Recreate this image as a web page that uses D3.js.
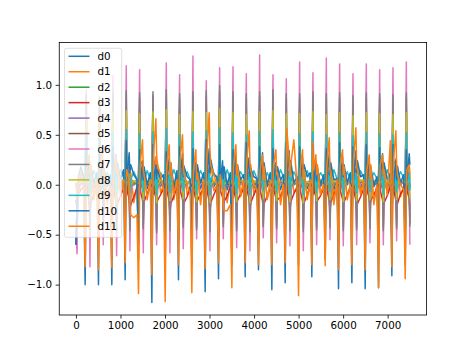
<!DOCTYPE html>
<html>
<head>
<meta charset="utf-8">
<script src="https://cdn.jsdelivr.net/npm/d3@7"></script>
<style>
body { margin:0; background:#fff; }
text { font-family:"DejaVu Sans", sans-serif; }
</style>
</head>
<body>
<div id="chartContainer"></div>
<script>

// sample positions (shared by all series), 8 samples around each beat
var xs = [0, 25, 45, 110, 170,
  207, 232, 244, 297, 314, 332, 402, 472,
  506, 531, 543, 596, 613, 631, 701, 771,
  806, 831, 843, 896, 913, 931, 1001, 1071,
  1105, 1130, 1142, 1195, 1212, 1230, 1300, 1370,
  1405, 1430, 1442, 1495, 1512, 1530, 1600, 1670,
  1705, 1730, 1742, 1795, 1812, 1830, 1900, 1970,
  2004, 2029, 2041, 2094, 2111, 2129, 2199, 2269,
  2303, 2328, 2340, 2393, 2410, 2428, 2498, 2568,
  2603, 2628, 2640, 2693, 2710, 2728, 2798, 2868,
  2902, 2927, 2939, 2992, 3009, 3027, 3097, 3167,
  3202, 3227, 3239, 3292, 3309, 3327, 3397, 3467,
  3502, 3527, 3539, 3592, 3609, 3627, 3697, 3767,
  3801, 3826, 3838, 3891, 3908, 3926, 3996, 4066,
  4100, 4125, 4137, 4190, 4207, 4225, 4295, 4365,
  4400, 4425, 4437, 4490, 4507, 4525, 4595, 4665,
  4699, 4724, 4736, 4789, 4806, 4824, 4894, 4964,
  4999, 5024, 5036, 5089, 5106, 5124, 5194, 5264,
  5298, 5323, 5335, 5388, 5405, 5423, 5493, 5563,
  5598, 5623, 5635, 5688, 5705, 5723, 5793, 5863,
  5897, 5922, 5934, 5987, 6004, 6022, 6092, 6162,
  6197, 6222, 6234, 6287, 6304, 6322, 6392, 6462,
  6496, 6521, 6533, 6586, 6603, 6621, 6691, 6761,
  6796, 6821, 6833, 6886, 6903, 6921, 6991, 7061,
  7095, 7120, 7132, 7185, 7202, 7220, 7290, 7360,
  7395, 7420, 7432, 7485, 7500];

var d0 = [-0.6, -0.35, -0.05, 0.08, 0.02,
  -0.55, 0.22, -0.05, 0.12, -0.02, 0.08, -0.04, 0.05,
  -0.5, 0.25, -0.08, 0.15, 0.0, 0.06, -0.02, 0.04,
  -0.58, 0.2, -0.04, 0.1, -0.04, 0.09, -0.05, 0.06,
  -0.52, 0.26, -0.07, 0.16, 0.01, 0.07, 0.0, 0.05,
  -0.6, 0.22, -0.05, 0.12, -0.03, 0.08, -0.04, 0.06,
  -0.55, 0.28, -0.09, 0.18, 0.0, 0.06, -0.02, 0.04,
  -0.5, 0.24, -0.05, 0.1, -0.04, 0.09, -0.05, 0.07,
  -0.57, 0.2, -0.07, 0.15, 0.01, 0.07, 0.0, 0.05,
  -0.53, 0.26, -0.04, 0.12, -0.03, 0.08, -0.04, 0.06,
  -0.6, 0.23, -0.08, 0.17, 0.0, 0.06, -0.02, 0.04,
  -0.52, 0.27, -0.05, 0.11, -0.04, 0.09, -0.05, 0.07,
  -0.56, 0.21, -0.09, 0.15, 0.01, 0.07, 0.0, 0.05,
  -0.5, 0.25, -0.05, 0.13, -0.03, 0.08, -0.04, 0.06,
  -0.58, 0.22, -0.07, 0.16, 0.0, 0.06, -0.02, 0.04,
  -0.54, 0.27, -0.04, 0.1, -0.04, 0.09, -0.05, 0.07,
  -0.6, 0.23, -0.08, 0.14, 0.01, 0.07, 0.0, 0.05,
  -0.51, 0.2, -0.05, 0.17, -0.03, 0.08, -0.04, 0.06,
  -0.56, 0.26, -0.09, 0.12, 0.0, 0.06, -0.02, 0.04,
  -0.53, 0.24, -0.05, 0.15, -0.04, 0.09, -0.05, 0.07,
  -0.59, 0.21, -0.07, 0.11, 0.01, 0.07, 0.0, 0.05,
  -0.52, 0.27, -0.04, 0.16, -0.03, 0.08, -0.04, 0.06,
  -0.57, 0.22, -0.08, 0.13, 0.0, 0.06, -0.02, 0.04,
  -0.54, 0.25, -0.05, 0.1, -0.04, 0.09, -0.05, 0.07,
  -0.58, 0.23, -0.09, 0.15, 0.01, 0.07, 0.0, 0.05,
  -0.55, 0.24, -0.05, 0.12, -0.02];

var d1 = [-0.1, -0.2, 0.02, 0.1, 0.05,
  -0.42, 0.1, 0.16, 0.22, 0.05, 0.18, -0.12, 0.02,
  -0.38, 0.12, 0.14, 0.2, 0.02, 0.15, -0.15, 0.0,
  -0.45, 0.08, 0.18, 0.25, 0.06, 0.2, -0.1, 0.03,
  -0.4, 0.14, 0.15, 0.18, 0.0, 0.12, -0.18, -0.02,
  -0.44, 0.1, 0.2, 0.24, 0.05, 0.17, -0.12, 0.02,
  -0.36, 0.12, 0.17, 0.28, 0.08, 0.22, -0.08, 0.0,
  -0.46, 0.08, 0.14, 0.2, 0.02, 0.15, -0.15, 0.03,
  -0.4, 0.13, 0.19, 0.26, 0.06, 0.19, -0.1, -0.02,
  -0.43, 0.1, 0.16, 0.22, 0.04, 0.16, -0.14, 0.02,
  -0.38, 0.12, 0.2, 0.3, 0.1, 0.24, -0.06, 0.0,
  -0.45, 0.09, 0.15, 0.15, -0.02, 0.1, -0.18, 0.03,
  -0.41, 0.14, 0.18, 0.24, 0.05, 0.18, -0.12, -0.02,
  -0.39, 0.1, 0.19, 0.27, 0.07, 0.2, -0.1, 0.02,
  -0.44, 0.12, 0.15, 0.2, 0.03, 0.15, -0.14, 0.0,
  -0.4, 0.08, 0.17, 0.22, 0.04, 0.16, -0.16, 0.03,
  -0.42, 0.13, 0.21, 0.25, 0.06, 0.2, -0.08, -0.02,
  -0.46, 0.1, 0.14, 0.2, 0.02, 0.14, -0.12, 0.02,
  -0.38, 0.12, 0.18, 0.23, 0.05, 0.17, -0.1, 0.0,
  -0.41, 0.09, 0.19, 0.26, 0.07, 0.2, -0.14, 0.03,
  -0.44, 0.14, 0.16, 0.21, 0.03, 0.15, -0.12, -0.02,
  -0.4, 0.1, 0.21, 0.27, 0.08, 0.21, -0.08, 0.02,
  -0.43, 0.12, 0.15, 0.2, 0.02, 0.14, -0.15, 0.0,
  -0.45, 0.08, 0.18, 0.24, 0.05, 0.18, -0.1, 0.03,
  -0.39, 0.13, 0.2, 0.26, 0.06, 0.19, -0.12, -0.02,
  -0.42, 0.1, 0.17, 0.2, 0.05];

var d2 = [0.02, -0.06, 0.0, 0.02, 0.01,
  0.0, 0.12, -0.05, 0.03, -0.04, 0.02, 0.01, 0.02,
  0.01, 0.1, -0.04, 0.04, -0.03, 0.03, 0.0, 0.03,
  0.0, 0.14, -0.06, 0.02, -0.05, 0.01, 0.02, 0.01,
  0.02, 0.11, -0.05, 0.04, -0.03, 0.02, 0.0, 0.02,
  0.0, 0.12, -0.04, 0.03, -0.04, 0.03, 0.01, 0.03,
  0.01, 0.14, -0.06, 0.02, -0.05, 0.01, 0.02, 0.01,
  0.0, 0.11, -0.05, 0.04, -0.03, 0.02, 0.0, 0.02,
  0.02, 0.12, -0.04, 0.03, -0.04, 0.03, 0.01, 0.03,
  0.0, 0.13, -0.06, 0.02, -0.05, 0.01, 0.02, 0.01,
  0.01, 0.1, -0.05, 0.04, -0.03, 0.02, 0.0, 0.02,
  0.0, 0.12, -0.04, 0.03, -0.04, 0.03, 0.01, 0.03,
  0.02, 0.14, -0.06, 0.02, -0.05, 0.01, 0.02, 0.01,
  0.0, 0.11, -0.05, 0.04, -0.03, 0.02, 0.0, 0.02,
  0.01, 0.12, -0.04, 0.03, -0.04, 0.03, 0.01, 0.03,
  0.0, 0.13, -0.06, 0.02, -0.05, 0.01, 0.02, 0.01,
  0.02, 0.1, -0.05, 0.04, -0.03, 0.02, 0.0, 0.02,
  0.0, 0.12, -0.04, 0.03, -0.04, 0.03, 0.01, 0.03,
  0.01, 0.14, -0.06, 0.02, -0.05, 0.01, 0.02, 0.01,
  0.0, 0.11, -0.05, 0.04, -0.03, 0.02, 0.0, 0.02,
  0.02, 0.12, -0.04, 0.03, -0.04, 0.03, 0.01, 0.03,
  0.0, 0.13, -0.06, 0.02, -0.05, 0.01, 0.02, 0.01,
  0.01, 0.1, -0.05, 0.04, -0.03, 0.02, 0.0, 0.02,
  0.0, 0.12, -0.04, 0.03, -0.04, 0.03, 0.01, 0.03,
  0.02, 0.14, -0.06, 0.02, -0.05, 0.01, 0.02, 0.01,
  0.0, 0.11, -0.05, 0.03, -0.04];

var d3v = [-0.15, -0.25, -0.1, -0.05, -0.02,
  0.0, 0.18, -0.05, -0.15, -0.26, -0.18, -0.1, -0.03,
  0.01, 0.15, -0.06, -0.13, -0.22, -0.15, -0.08, -0.02,
  -0.01, 0.2, -0.04, -0.16, -0.27, -0.19, -0.11, -0.04,
  0.0, 0.17, -0.05, -0.14, -0.24, -0.2, -0.12, -0.03,
  0.01, 0.19, -0.06, -0.15, -0.25, -0.17, -0.09, -0.02,
  -0.01, 0.16, -0.04, -0.13, -0.23, -0.16, -0.1, -0.04,
  0.0, 0.21, -0.05, -0.16, -0.28, -0.19, -0.11, -0.03,
  0.01, 0.18, -0.06, -0.14, -0.22, -0.18, -0.12, -0.02,
  -0.01, 0.15, -0.04, -0.15, -0.25, -0.16, -0.09, -0.04,
  0.0, 0.19, -0.05, -0.16, -0.26, -0.18, -0.1, -0.03,
  0.01, 0.17, -0.06, -0.12, -0.21, -0.17, -0.11, -0.02,
  -0.01, 0.2, -0.04, -0.15, -0.25, -0.16, -0.09, -0.04,
  0.0, 0.16, -0.05, -0.14, -0.23, -0.18, -0.1, -0.03,
  0.01, 0.18, -0.06, -0.16, -0.27, -0.19, -0.11, -0.02,
  -0.01, 0.21, -0.04, -0.13, -0.22, -0.15, -0.12, -0.04,
  0.0, 0.17, -0.05, -0.15, -0.24, -0.17, -0.09, -0.03,
  0.01, 0.15, -0.06, -0.16, -0.26, -0.18, -0.1, -0.02,
  -0.01, 0.19, -0.04, -0.12, -0.21, -0.16, -0.11, -0.04,
  0.0, 0.2, -0.05, -0.15, -0.25, -0.18, -0.09, -0.03,
  0.01, 0.16, -0.06, -0.14, -0.23, -0.17, -0.1, -0.02,
  -0.01, 0.18, -0.04, -0.16, -0.27, -0.19, -0.12, -0.04,
  0.0, 0.21, -0.05, -0.13, -0.22, -0.16, -0.1, -0.03,
  0.01, 0.17, -0.06, -0.15, -0.24, -0.18, -0.11, -0.02,
  -0.01, 0.15, -0.04, -0.16, -0.26, -0.19, -0.09, -0.04,
  0.0, 0.19, -0.05, -0.14, -0.25];

var d4 = [-0.4, -0.3, -0.03, 0.0, 0.02,
  0.01, 0.76, 0.03, -0.02, -0.35, -0.02, 0.02, 0.03,
  0.02, 0.72, 0.02, -0.03, -0.33, -0.01, 0.01, 0.02,
  0.01, 0.8, 0.04, -0.02, -0.37, -0.03, 0.02, 0.03,
  0.02, 0.82, 0.03, -0.03, -0.36, -0.02, 0.01, 0.02,
  0.01, 0.78, 0.02, -0.02, -0.34, -0.01, 0.02, 0.03,
  0.02, 0.8, 0.04, -0.03, -0.38, -0.03, 0.01, 0.02,
  0.01, 0.84, 0.03, -0.02, -0.35, -0.02, 0.02, 0.03,
  0.02, 0.77, 0.02, -0.03, -0.33, -0.01, 0.01, 0.02,
  0.01, 0.8, 0.04, -0.02, -0.36, -0.03, 0.02, 0.03,
  0.02, 0.81, 0.03, -0.03, -0.37, -0.02, 0.01, 0.02,
  0.01, 0.84, 0.02, -0.02, -0.32, -0.01, 0.02, 0.03,
  0.02, 0.79, 0.04, -0.03, -0.36, -0.03, 0.01, 0.02,
  0.01, 0.77, 0.03, -0.02, -0.37, -0.02, 0.02, 0.03,
  0.02, 0.8, 0.02, -0.03, -0.33, -0.01, 0.01, 0.02,
  0.01, 0.82, 0.04, -0.02, -0.35, -0.03, 0.02, 0.03,
  0.02, 0.78, 0.03, -0.03, -0.36, -0.02, 0.01, 0.02,
  0.01, 0.78, 0.02, -0.02, -0.37, -0.01, 0.02, 0.03,
  0.02, 0.8, 0.04, -0.03, -0.35, -0.03, 0.01, 0.02,
  0.01, 0.77, 0.03, -0.02, -0.34, -0.02, 0.02, 0.03,
  0.02, 0.79, 0.02, -0.03, -0.36, -0.01, 0.01, 0.02,
  0.01, 0.76, 0.04, -0.02, -0.35, -0.03, 0.02, 0.03,
  0.02, 0.79, 0.03, -0.03, -0.34, -0.02, 0.01, 0.02,
  0.01, 0.78, 0.02, -0.02, -0.36, -0.01, 0.02, 0.03,
  0.02, 0.77, 0.04, -0.03, -0.34, -0.03, 0.01, 0.02,
  0.01, 0.79, 0.03, -0.02, -0.33];

var d5 = [-0.5, -0.35, -0.04, 0.01, 0.02,
  0.02, 0.86, 0.04, -0.03, -0.42, -0.03, 0.02, 0.03,
  0.01, 0.82, 0.03, -0.02, -0.4, -0.02, 0.03, 0.02,
  0.02, 0.88, 0.05, -0.03, -0.44, -0.03, 0.02, 0.03,
  0.01, 0.9, 0.04, -0.02, -0.43, -0.02, 0.03, 0.02,
  0.02, 0.87, 0.03, -0.03, -0.41, -0.03, 0.02, 0.03,
  0.01, 0.88, 0.05, -0.02, -0.45, -0.02, 0.03, 0.02,
  0.02, 0.9, 0.04, -0.03, -0.43, -0.03, 0.02, 0.03,
  0.01, 0.86, 0.03, -0.02, -0.4, -0.02, 0.03, 0.02,
  0.02, 0.88, 0.05, -0.03, -0.42, -0.03, 0.02, 0.03,
  0.01, 0.89, 0.04, -0.02, -0.44, -0.02, 0.03, 0.02,
  0.02, 0.93, 0.03, -0.03, -0.39, -0.03, 0.02, 0.03,
  0.01, 0.88, 0.05, -0.02, -0.43, -0.02, 0.03, 0.02,
  0.02, 0.86, 0.04, -0.03, -0.44, -0.03, 0.02, 0.03,
  0.01, 0.88, 0.03, -0.02, -0.39, -0.02, 0.03, 0.02,
  0.02, 0.9, 0.05, -0.03, -0.41, -0.03, 0.02, 0.03,
  0.01, 0.86, 0.04, -0.02, -0.43, -0.02, 0.03, 0.02,
  0.02, 0.86, 0.03, -0.03, -0.44, -0.03, 0.02, 0.03,
  0.01, 0.88, 0.05, -0.02, -0.42, -0.02, 0.03, 0.02,
  0.02, 0.86, 0.04, -0.03, -0.4, -0.03, 0.02, 0.03,
  0.01, 0.87, 0.03, -0.02, -0.43, -0.02, 0.03, 0.02,
  0.02, 0.84, 0.05, -0.03, -0.42, -0.03, 0.02, 0.03,
  0.01, 0.87, 0.04, -0.02, -0.41, -0.02, 0.03, 0.02,
  0.02, 0.86, 0.03, -0.03, -0.43, -0.03, 0.02, 0.03,
  0.01, 0.85, 0.05, -0.02, -0.41, -0.02, 0.03, 0.02,
  0.02, 0.87, 0.04, -0.03, -0.39];

var d6 = [-0.45, -0.69, -0.1, 0.02, 0.04,
  0.03, 0.95, 0.06, 0.0, -0.82, -0.06, 0.02, 0.04,
  0.02, 0.85, 0.05, -0.02, -0.6, -0.04, 0.03, 0.05,
  0.04, 1.09, 0.07, 0.01, -0.71, -0.05, 0.01, 0.03,
  0.03, 1.19, 0.06, -0.01, -0.66, -0.07, 0.02, 0.05,
  0.02, 1.15, 0.05, 0.0, -0.68, -0.05, 0.03, 0.04,
  0.04, 0.9, 0.06, -0.02, -0.6, -0.04, 0.01, 0.03,
  0.03, 1.22, 0.07, 0.01, -0.68, -0.06, 0.02, 0.05,
  0.02, 1.1, 0.05, -0.01, -0.64, -0.05, 0.03, 0.04,
  0.04, 1.29, 0.06, 0.0, -0.54, -0.04, 0.01, 0.03,
  0.03, 1.04, 0.07, -0.02, -0.66, -0.06, 0.02, 0.05,
  0.02, 1.17, 0.05, 0.01, -0.54, -0.05, 0.03, 0.04,
  0.04, 1.18, 0.06, -0.01, -0.63, -0.04, 0.01, 0.03,
  0.03, 1.11, 0.07, 0.0, -0.66, -0.06, 0.02, 0.05,
  0.02, 1.3, 0.05, -0.02, -0.53, -0.05, 0.03, 0.04,
  0.04, 1.1, 0.06, 0.01, -0.58, -0.04, 0.01, 0.03,
  0.03, 1.06, 0.07, -0.01, -0.61, -0.06, 0.02, 0.05,
  0.02, 1.23, 0.05, 0.0, -0.66, -0.05, 0.03, 0.04,
  0.04, 1.12, 0.06, -0.02, -0.6, -0.04, 0.01, 0.03,
  0.03, 1.27, 0.07, 0.01, -0.55, -0.06, 0.02, 0.05,
  0.02, 1.21, 0.05, -0.01, -0.61, -0.05, 0.03, 0.04,
  0.04, 1.11, 0.06, 0.0, -0.6, -0.04, 0.01, 0.03,
  0.03, 1.21, 0.07, -0.02, -0.58, -0.06, 0.02, 0.05,
  0.02, 1.15, 0.05, 0.01, -0.6, -0.05, 0.03, 0.04,
  0.04, 1.17, 0.06, -0.01, -0.56, -0.04, 0.01, 0.03,
  0.03, 1.23, 0.07, 0.0, -0.6];

var d7 = [-0.6, -0.4, -0.05, 0.02, 0.03,
  0.02, 0.9, 0.04, -0.02, -0.45, -0.03, 0.03, 0.02,
  0.01, 0.88, 0.03, -0.01, -0.42, -0.02, 0.02, 0.03,
  0.02, 0.93, 0.05, -0.02, -0.47, -0.03, 0.03, 0.02,
  0.01, 0.94, 0.04, -0.01, -0.46, -0.02, 0.02, 0.03,
  0.02, 0.92, 0.03, -0.02, -0.44, -0.03, 0.03, 0.02,
  0.01, 0.93, 0.05, -0.01, -0.48, -0.02, 0.02, 0.03,
  0.02, 0.95, 0.04, -0.02, -0.46, -0.03, 0.03, 0.02,
  0.01, 0.91, 0.03, -0.01, -0.43, -0.02, 0.02, 0.03,
  0.02, 0.93, 0.05, -0.02, -0.45, -0.03, 0.03, 0.02,
  0.01, 0.94, 0.04, -0.01, -0.47, -0.02, 0.02, 0.03,
  0.02, 0.99, 0.03, -0.02, -0.42, -0.03, 0.03, 0.02,
  0.01, 0.93, 0.05, -0.01, -0.46, -0.02, 0.02, 0.03,
  0.02, 0.91, 0.04, -0.02, -0.47, -0.03, 0.03, 0.02,
  0.01, 0.93, 0.03, -0.01, -0.42, -0.02, 0.02, 0.03,
  0.02, 0.95, 0.05, -0.02, -0.44, -0.03, 0.03, 0.02,
  0.01, 0.91, 0.04, -0.01, -0.46, -0.02, 0.02, 0.03,
  0.02, 0.91, 0.03, -0.02, -0.47, -0.03, 0.03, 0.02,
  0.01, 0.93, 0.05, -0.01, -0.45, -0.02, 0.02, 0.03,
  0.02, 0.91, 0.04, -0.02, -0.43, -0.03, 0.03, 0.02,
  0.01, 0.92, 0.03, -0.01, -0.46, -0.02, 0.02, 0.03,
  0.02, 0.89, 0.05, -0.02, -0.45, -0.03, 0.03, 0.02,
  0.01, 0.92, 0.04, -0.01, -0.44, -0.02, 0.02, 0.03,
  0.02, 0.91, 0.03, -0.02, -0.46, -0.03, 0.03, 0.02,
  0.01, 0.9, 0.05, -0.01, -0.44, -0.02, 0.02, 0.03,
  0.02, 0.92, 0.04, -0.02, -0.42];

var d8 = [-0.1, -0.15, 0.0, 0.03, 0.02,
  0.02, 0.7, 0.03, 0.05, -0.16, 0.0, 0.04, 0.02,
  0.01, 0.66, 0.02, 0.04, -0.14, 0.01, 0.03, 0.01,
  0.03, 0.72, 0.04, 0.06, -0.18, -0.01, 0.05, 0.03,
  0.02, 0.74, 0.03, 0.05, -0.17, 0.0, 0.04, 0.02,
  0.01, 0.71, 0.02, 0.04, -0.15, 0.01, 0.03, 0.01,
  0.03, 0.73, 0.04, 0.06, -0.18, -0.01, 0.05, 0.03,
  0.02, 0.75, 0.03, 0.05, -0.16, 0.0, 0.04, 0.02,
  0.01, 0.7, 0.02, 0.04, -0.14, 0.01, 0.03, 0.01,
  0.03, 0.73, 0.04, 0.06, -0.17, -0.01, 0.05, 0.03,
  0.02, 0.72, 0.03, 0.05, -0.18, 0.0, 0.04, 0.02,
  0.01, 0.76, 0.02, 0.04, -0.13, 0.01, 0.03, 0.01,
  0.03, 0.72, 0.04, 0.06, -0.17, -0.01, 0.05, 0.03,
  0.02, 0.7, 0.03, 0.05, -0.18, 0.0, 0.04, 0.02,
  0.01, 0.73, 0.02, 0.04, -0.14, 0.01, 0.03, 0.01,
  0.03, 0.74, 0.04, 0.06, -0.16, -0.01, 0.05, 0.03,
  0.02, 0.71, 0.03, 0.05, -0.17, 0.0, 0.04, 0.02,
  0.01, 0.71, 0.02, 0.04, -0.18, 0.01, 0.03, 0.01,
  0.03, 0.73, 0.04, 0.06, -0.16, -0.01, 0.05, 0.03,
  0.02, 0.7, 0.03, 0.05, -0.15, 0.0, 0.04, 0.02,
  0.01, 0.72, 0.02, 0.04, -0.17, 0.01, 0.03, 0.01,
  0.03, 0.69, 0.04, 0.06, -0.16, -0.01, 0.05, 0.03,
  0.02, 0.72, 0.03, 0.05, -0.15, 0.0, 0.04, 0.02,
  0.01, 0.71, 0.02, 0.04, -0.17, 0.01, 0.03, 0.01,
  0.03, 0.7, 0.04, 0.06, -0.15, -0.01, 0.05, 0.03,
  0.02, 0.72, 0.03, 0.05, -0.14];

var d9 = [0.02, -0.08, 0.05, 0.12, 0.08,
  0.05, 0.5, 0.0, 0.12, -0.08, 0.05, 0.14, 0.06,
  0.04, 0.46, 0.01, 0.1, -0.06, 0.04, 0.12, 0.05,
  0.06, 0.52, -0.01, 0.14, -0.09, 0.06, 0.15, 0.07,
  0.05, 0.55, 0.0, 0.11, -0.08, 0.05, 0.13, 0.06,
  0.04, 0.51, 0.01, 0.13, -0.07, 0.04, 0.14, 0.05,
  0.06, 0.53, -0.01, 0.12, -0.1, 0.06, 0.12, 0.07,
  0.05, 0.56, 0.0, 0.1, -0.08, 0.05, 0.15, 0.06,
  0.04, 0.5, 0.01, 0.14, -0.06, 0.04, 0.13, 0.05,
  0.06, 0.53, -0.01, 0.11, -0.09, 0.06, 0.14, 0.07,
  0.05, 0.54, 0.0, 0.13, -0.1, 0.05, 0.12, 0.06,
  0.04, 0.57, 0.01, 0.12, -0.05, 0.04, 0.15, 0.05,
  0.06, 0.52, -0.01, 0.1, -0.09, 0.06, 0.13, 0.07,
  0.05, 0.5, 0.0, 0.14, -0.1, 0.05, 0.14, 0.06,
  0.04, 0.53, 0.01, 0.11, -0.06, 0.04, 0.12, 0.05,
  0.06, 0.55, -0.01, 0.13, -0.08, 0.06, 0.15, 0.07,
  0.05, 0.51, 0.0, 0.12, -0.09, 0.05, 0.13, 0.06,
  0.04, 0.51, 0.01, 0.1, -0.1, 0.04, 0.14, 0.05,
  0.06, 0.53, -0.01, 0.14, -0.08, 0.06, 0.12, 0.07,
  0.05, 0.5, 0.0, 0.11, -0.07, 0.05, 0.15, 0.06,
  0.04, 0.52, 0.01, 0.13, -0.09, 0.04, 0.13, 0.05,
  0.06, 0.49, -0.01, 0.12, -0.08, 0.06, 0.14, 0.07,
  0.05, 0.52, 0.0, 0.1, -0.07, 0.05, 0.12, 0.06,
  0.04, 0.51, 0.01, 0.14, -0.09, 0.04, 0.15, 0.05,
  0.06, 0.5, -0.01, 0.11, -0.07, 0.06, 0.13, 0.07,
  0.05, 0.52, 0.0, 0.13, -0.06];

var d10 = [-0.6, -0.2, 0.05, 0.18, 0.08,
  -1.0, 0.35, 0.02, 0.28, 0.08, 0.2, 0.02, 0.12,
  -1.0, 0.3, 0.05, 0.22, 0.04, 0.16, 0.0, 0.1,
  -1.0, 0.38, 0.0, 0.3, 0.1, 0.22, 0.06, 0.15,
  -0.95, 0.44, 0.04, 0.32, 0.12, 0.2, 0.1, 0.05,
  -0.75, 0.35, -0.02, 0.24, 0.05, 0.18, 0.0, 0.12,
  -1.18, 0.4, 0.03, 0.2, 0.06, 0.15, 0.06, 0.1,
  -0.8, 0.33, 0.0, 0.27, 0.1, 0.22, -0.02, 0.14,
  -0.95, 0.38, 0.05, 0.31, 0.08, 0.18, 0.08, 0.05,
  -0.8, 0.36, -0.02, 0.22, 0.04, 0.2, 0.02, 0.12,
  -1.07, 0.45, 0.04, 0.36, 0.12, 0.25, 0.1, 0.08,
  -0.94, 0.4, 0.0, 0.24, 0.06, 0.18, 0.0, 0.12,
  -0.8, 0.35, 0.03, 0.3, 0.1, 0.2, 0.05, 0.1,
  -0.92, 0.42, 0.05, 0.27, 0.08, 0.16, 0.08, 0.06,
  -0.85, 0.38, -0.02, 0.32, 0.1, 0.22, 0.0, 0.12,
  -1.05, 0.36, 0.04, 0.22, 0.05, 0.18, 0.05, 0.1,
  -0.98, 0.42, 0.0, 0.34, 0.12, 0.24, 0.02, 0.08,
  -0.8, 0.38, 0.05, 0.27, 0.08, 0.2, 0.08, 0.12,
  -0.92, 0.4, -0.02, 0.24, 0.04, 0.16, 0.0, 0.1,
  -0.75, 0.36, 0.03, 0.31, 0.1, 0.22, 0.05, 0.06,
  -1.04, 0.42, 0.0, 0.28, 0.08, 0.2, 0.02, 0.12,
  -0.98, 0.38, 0.05, 0.34, 0.12, 0.24, 0.08, 0.1,
  -1.04, 0.4, -0.02, 0.26, 0.06, 0.18, 0.0, 0.08,
  -1.03, 0.37, 0.04, 0.31, 0.1, 0.22, 0.05, 0.12,
  -0.91, 0.4, 0.0, 0.24, 0.05, 0.18, 0.02, 0.1,
  -0.8, 0.35, 0.04, 0.31, 0.2];

var d11 = [0.0, -0.12, 0.05, 0.12, 0.0,
  -0.82, -0.1, 0.15, 0.3, 0.1, 0.2, -0.15, 0.05,
  -0.85, -0.05, 0.2, 0.35, 0.05, 0.15, -0.2, 0.0,
  -0.83, -0.1, 0.1, 0.28, 0.12, 0.18, -0.1, 0.05,
  -0.78, 0.0, 0.15, 0.05, -0.2, -0.3, -0.33, -0.3,
  -1.09, -0.05, 0.2, 0.45, 0.15, 0.1, -0.15, 0.05,
  -0.9, 0.0, 0.3, 0.66, 0.3, 0.2, 0.1, -0.05,
  -1.17, -0.1, 0.2, 0.4, 0.1, 0.22, -0.1, 0.05,
  -0.8, 0.05, 0.25, 0.5, 0.2, 0.1, 0.0, -0.1,
  -1.08, -0.05, 0.15, 0.35, 0.05, 0.12, -0.2, 0.05,
  -0.84, 0.0, 0.3, 0.72, 0.35, 0.2, 0.1, 0.0,
  -0.78, -0.05, 0.1, -0.05, -0.2, -0.26, -0.26, -0.2,
  -1.03, 0.0, 0.2, 0.4, 0.1, 0.2, -0.1, 0.05,
  -0.78, 0.05, 0.25, 0.54, 0.2, 0.15, 0.0, -0.05,
  -0.8, -0.05, 0.15, 0.3, 0.05, 0.18, -0.15, 0.05,
  -0.8, 0.0, 0.2, 0.35, 0.1, 0.12, -0.2, 0.0,
  -0.78, 0.0, 0.56, 0.25, 0.1, 0.2, 0.45, 0.0,
  -1.11, -0.05, 0.15, 0.35, 0.05, 0.15, -0.15, 0.05,
  -0.8, 0.42, 0.15, 0.3, 0.1, 0.2, -0.1, 0.0,
  -0.81, 0.0, 0.2, 0.47, 0.15, 0.1, -0.2, 0.05,
  -0.85, -0.05, 0.2, 0.35, 0.1, 0.18, -0.15, 0.0,
  -0.8, 0.0, 0.25, 0.57, 0.2, 0.15, -0.1, 0.05,
  -0.85, -0.05, 0.15, 0.3, 0.05, 0.2, -0.2, 0.0,
  -1.03, 0.0, 0.2, 0.3, 0.1, 0.15, -0.1, 0.44,
  -0.82, 0.05, 0.25, 0.54, 0.2, 0.1, 0.0, -0.05,
  -0.94, -0.05, 0.15, 0.2, 0.1];

var seriesNames = ["d0","d1","d2","d3","d4","d5","d6","d7","d8","d9","d10","d11"];
var seriesValues = [d0, d1, d2, d3v, d4, d5, d6, d7, d8, d9, d10, d11];
var colors = ["#1f77b4","#ff7f0e","#2ca02c","#d62728","#9467bd","#8c564b",
              "#e377c2","#7f7f7f","#bcbd22","#17becf","#1f77b4","#ff7f0e"];
var xTicks = [0, 1000, 2000, 3000, 4000, 5000, 6000, 7000];
var yTicks = [-1.0, -0.5, 0.0, 0.5, 1.0];

var W = 474, H = 354;
var margin = { left:59.25, right:47.4, top:42.5, bottom:39 };
var w = W - margin.left - margin.right;
var h = H - margin.top - margin.bottom;
var fontSize = 10.3;

var svg = d3.select("#chartContainer")
            .append("svg")
            .attr("width", W)
            .attr("height", H);

var g = svg.append("g")
            .attr("transform", "translate(" + margin.left + "," + margin.top + ")");

// matplotlib-style 5% padding on both axes
var xExt = d3.extent(xs);
var xPad = (xExt[1] - xExt[0]) * 0.05;
var yExt = d3.extent(d3.merge(seriesValues));
var yPad = (yExt[1] - yExt[0]) * 0.05;

var xScale = d3.scaleLinear()
            .domain([xExt[0] - xPad, xExt[1] + xPad])
            .range([0, w]);

var yScale = d3.scaleLinear()
            .domain([yExt[0] - yPad, yExt[1] + yPad])
            .range([h, 0]);

var line = d3.line()
    .x(function(d) { return xScale(d[0]); })
    .y(function(d) { return yScale(d[1]); });

var plot = g.append("g");

seriesValues.forEach(function(vals, i) {
    var pts = xs.map(function(x, j) { return [x, vals[j]]; });
    plot.append("path")
        .datum(pts)
        .attr("class", "series " + seriesNames[i])
        .attr("d", line)
        .attr("fill", "none")
        .attr("stroke", colors[i])
        .attr("stroke-width", 1.5)
        .attr("stroke-linejoin", "round");
});

// --------- axes
var xAxis = d3.axisBottom(xScale)
    .tickValues(xTicks)
    .tickSize(3.6)
    .tickPadding(3.5)
    .tickFormat(d3.format("d"));

var yAxis = d3.axisLeft(yScale)
    .tickValues(yTicks)
    .tickSize(3.6)
    .tickPadding(3.5)
    .tickFormat(d3.format(".1f"));

var xg = g.append("g")
    .attr("transform", "translate(0," + h + ")")
    .call(xAxis);

var yg = g.append("g").call(yAxis);

[xg, yg].forEach(function(ax) {
    ax.select(".domain").remove();
    ax.selectAll(".tick line").attr("stroke", "#000").attr("stroke-width", 0.8);
    ax.selectAll(".tick text")
        .attr("fill", "#000")
        .style("font-size", fontSize + "px")
        .style("font-family", "DejaVu Sans");
});

g.append("rect")
    .attr("x", 0)
    .attr("y", 0)
    .attr("width", w)
    .attr("height", h)
    .attr("fill", "none")
    .attr("stroke", "#000")
    .attr("stroke-width", 0.8);

//----- Legend
var legend = svg.append("g")
    .attr("class", "legend")
    .attr("transform", "translate(64.5,48.3)");

legend.append("rect")
    .attr("x", 0)
    .attr("y", 0)
    .attr("width", 57.2)
    .attr("height", 189)
    .attr("rx", 2)
    .attr("fill", "#fff")
    .attr("fill-opacity", 0.8)
    .attr("stroke", "#cccccc")
    .attr("stroke-opacity", 0.8)
    .attr("stroke-width", 0.8);

seriesNames.forEach(function(name, i) {
    var row = legend.append("g")
        .attr("transform", "translate(0," + (8 + i * 15.45) + ")");

    row.append("line")
        .attr("x1", 4)
        .attr("x2", 25)
        .attr("y1", 0)
        .attr("y2", 0)
        .attr("stroke", colors[i])
        .attr("stroke-width", 1.5);

    row.append("text")
        .attr("x", 33)
        .attr("y", 0)
        .attr("dy", "0.36em")
        .style("font-size", fontSize + "px")
        .attr("fill", "#000")
        .text(name);
});

</script>
</body>
</html>
